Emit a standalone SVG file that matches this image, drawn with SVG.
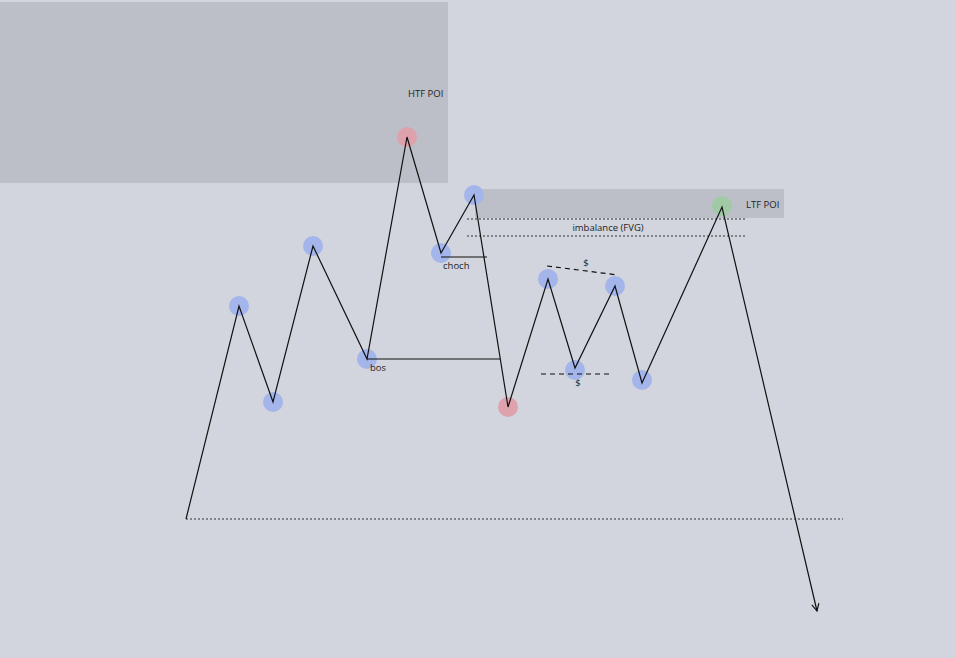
<svg xmlns="http://www.w3.org/2000/svg" width="956" height="658" viewBox="0 0 956 658">
<defs>
<style>
.lbl{font-family:"Open Sans","Liberation Sans",sans-serif;font-size:9.5px;fill:#222}
.pt{fill:#a3b5ea}
.red{fill:#dea2ad}
.grn{fill:#a2c9a6}
.ln{stroke:#111;stroke-width:1.2;fill:none}
.dot{stroke:#333;stroke-width:1;stroke-dasharray:2,2;fill:none}
.dash{stroke:#111;stroke-width:1.2;stroke-dasharray:5,4;fill:none}
.zone{fill:#bcbfc7}
</style>
<marker id="arr" viewBox="0 0 10 10" refX="9" refY="5" markerWidth="9" markerHeight="9" orient="auto" markerUnits="userSpaceOnUse">
<path d="M1,1 L9,5 L1,9" fill="none" stroke="#111" stroke-width="1.3"/>
</marker>
</defs>
<rect width="956" height="658" fill="#d2d5dd"/>
<g id="htf-poi">
<rect class="zone" x="0" y="2" width="448" height="181"/>
<text class="lbl" x="408" y="97">HTF POI</text>
</g>
<g id="ltf-poi">
<rect class="zone" x="475" y="189" width="309" height="29"/>
<text class="lbl" x="746" y="208">LTF POI</text>
</g>
<g id="imbalance">
<line class="dot" x1="467" y1="219" x2="747" y2="219"/>
<line class="dot" x1="467" y1="236" x2="747" y2="236"/>
<text class="lbl" x="608" y="231" text-anchor="middle">imbalance (FVG)</text>
</g>
<g id="baseline">
<line class="dot" x1="186" y1="519" x2="843" y2="519"/>
</g>
<g id="nodes">
<circle id="p1" class="pt" cx="239" cy="306" r="10"/>
<circle id="p2" class="pt" cx="273" cy="402" r="10"/>
<circle id="p3" class="pt" cx="313" cy="246" r="10"/>
<circle id="p4" class="pt" cx="367" cy="359" r="10"/>
<circle id="p5" class="red" cx="407" cy="137" r="10"/>
<circle id="p6" class="pt" cx="441" cy="253" r="10"/>
<circle id="p7" class="pt" cx="474" cy="195" r="10"/>
<circle id="p8" class="red" cx="508" cy="407" r="10"/>
<circle id="p9" class="pt" cx="548" cy="279" r="10"/>
<circle id="p10" class="pt" cx="575" cy="370" r="10"/>
<circle id="p11" class="pt" cx="615" cy="286" r="10"/>
<circle id="p12" class="pt" cx="642" cy="380" r="10"/>
<circle id="p13" class="grn" cx="722" cy="206" r="10"/>
</g>
<g id="connectors">
<polyline class="ln" marker-end="url(#arr)" points="186,519 239,306 273,402 313,246 367,359 407,137 441,253 474,195 508,407 548,279 575,368 615,286 642,383 722,207 817,611"/>
<line class="ln" x1="367" y1="359" x2="500" y2="359"/>
<line class="ln" x1="441" y1="257" x2="487" y2="257"/>
<line class="dash" x1="547" y1="266" x2="618" y2="275"/>
<line class="dash" x1="541" y1="374" x2="612" y2="374"/>
</g>
<g id="labels">
<text class="lbl" x="370" y="371">bos</text>
<text class="lbl" x="443" y="269">choch</text>
<text class="lbl" x="586" y="266" text-anchor="middle">$</text>
<text class="lbl" x="578" y="386" text-anchor="middle">$</text>
</g>
</svg>
